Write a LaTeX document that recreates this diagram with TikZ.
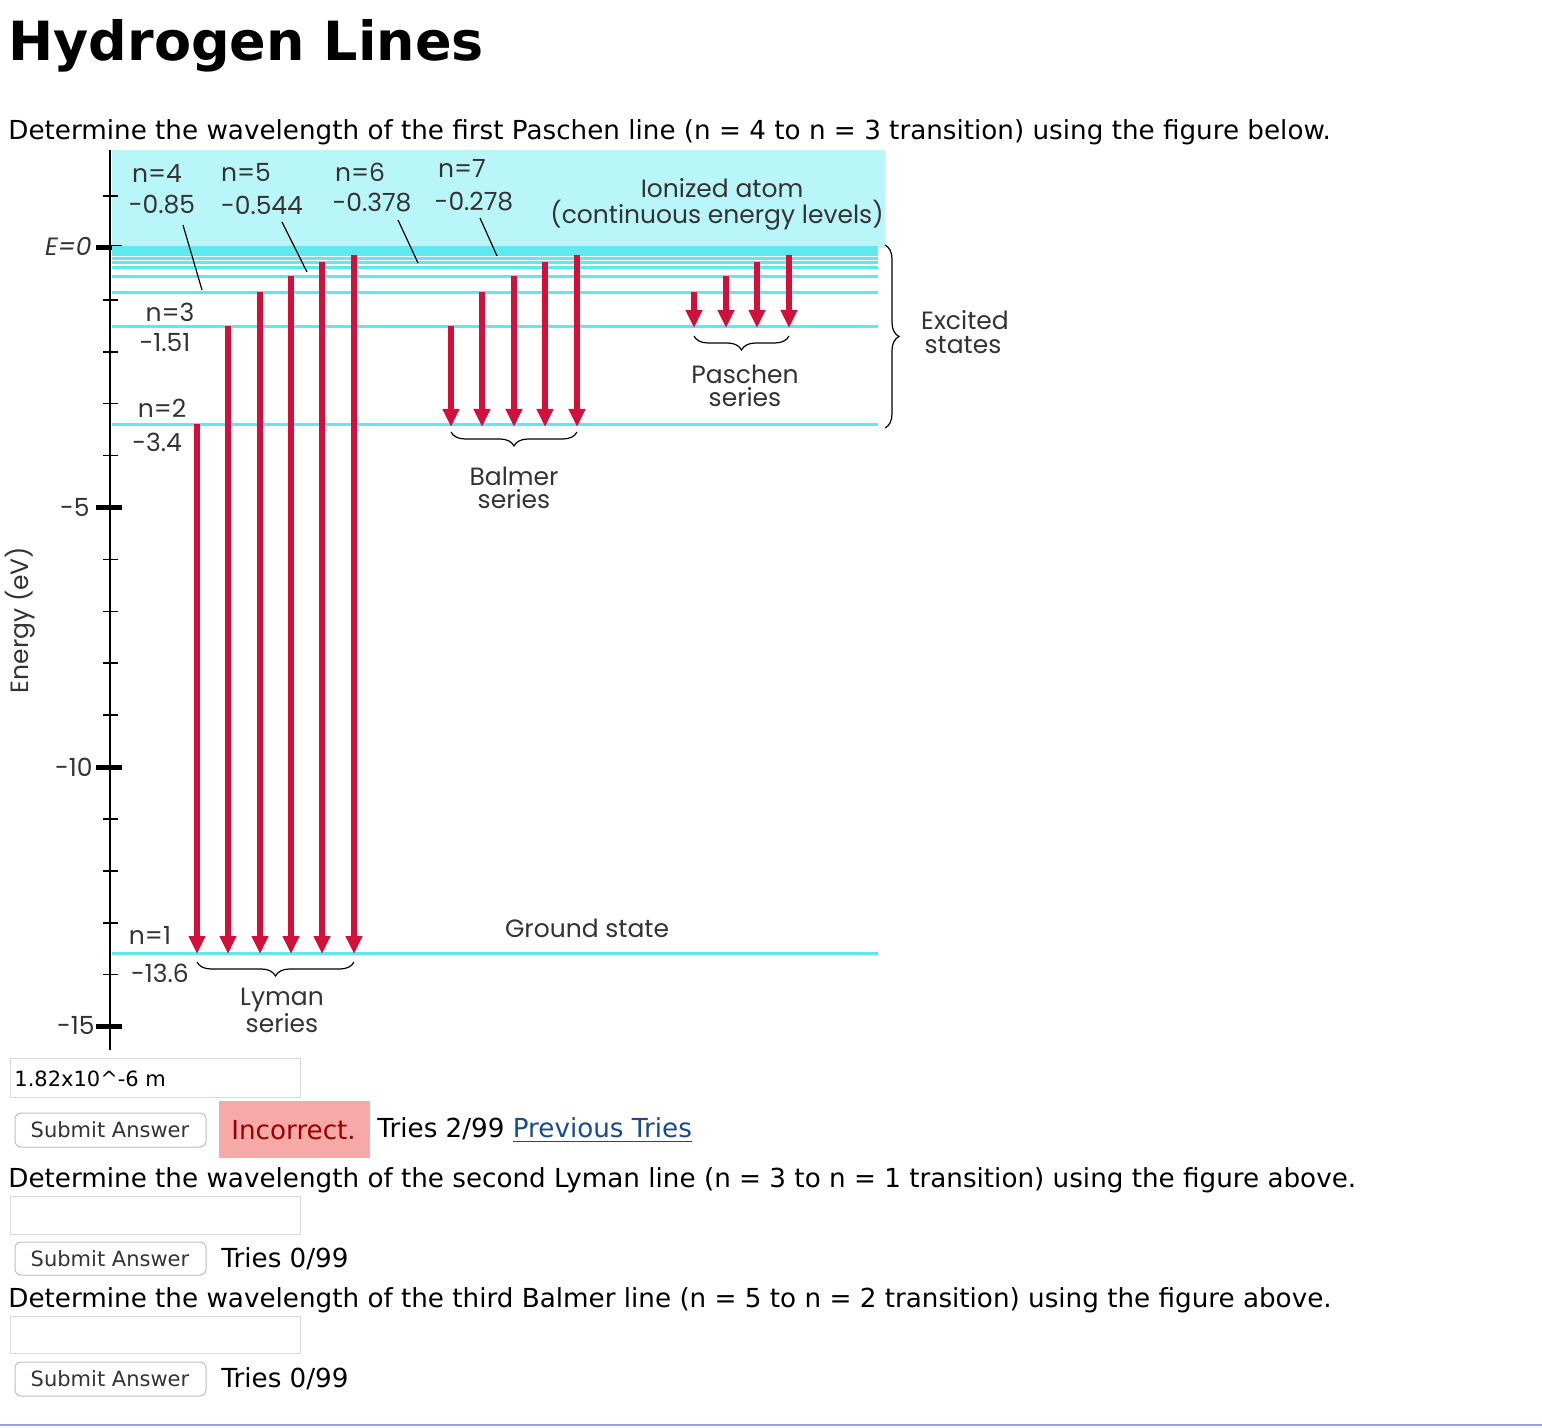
\documentclass[tikz,border=0pt]{standalone}
\usepackage{fontspec}
\setmainfont{DejaVu Sans}
\newfontfamily\dia{Poppins}
\usetikzlibrary{arrows.meta,decorations.pathreplacing}
\definecolor{cy}{HTML}{5FE8F0}
\definecolor{cybg}{HTML}{B8F6FA}
\definecolor{arr}{HTML}{D2103C}
\definecolor{pinkbg}{HTML}{F7A9A8}
\definecolor{linkb}{HTML}{1B4A8A}
\tikzset{
 lvl/.style={draw=cy,line width=1.6pt},
 em/.style={draw=arr,line width=2.6pt,-{Triangle[width=8pt,length=9pt]}},
 dl/.style={font=\dia\fontsize{12.5}{12}\selectfont,inner sep=0pt,text=black!80},
 pg/.style={font=\fontsize{13.1}{14}\selectfont,inner sep=0pt,anchor=west},
 box/.style={draw=black!15,line width=0.5pt},
 btn/.style={draw=black!25,rounded corners=3pt,fill=white,line width=0.5pt},
 brc/.style={decorate,decoration={brace,amplitude=7pt},line width=0.6pt},
 lead/.style={line width=0.6pt}
}
\begin{document}
\begin{tikzpicture}[x=0.5pt,y=-0.5pt]
\useasboundingbox (0,0) rectangle (1542,1428);
\node[anchor=west,inner sep=0pt,font=\bfseries\fontsize{27}{30}\selectfont] (title) at (8,46) {Hydrogen Lines};
\node[pg] (q1) at (8,132) {Determine the wavelength of the first Paschen line (n = 4 to n = 3 transition) using the figure below.};
\fill[cybg] (112,150) rectangle (885,248);
% axis
\draw[line width=0.8pt] (110,150) -- (110,1050);
\foreach \e in {1,0,-1,-2,-3,-4,-5,-6,-7,-8,-9,-10,-11,-12,-13,-14,-15}
  \draw[line width=0.8pt] (103,{248-51.9*\e}) -- (118,{248-51.9*\e});
\foreach \e in {0,-5,-10,-15}
  \draw[line width=2.5pt] (96,{248-51.9*\e}) -- (122,{248-51.9*\e});
\node[dl,anchor=east] (e0) at (92,246) {\itshape E=0};
\node[dl,anchor=east] (e5) at (90,507) {-5};
\node[dl,anchor=east] (e10) at (93,767) {-10};
\node[dl,anchor=east] (e15) at (95,1025) {-15};
\node[dl,rotate=90] (ylab) at (20,620) {Energy (eV)};
% levels
\foreach \e/\nm in {-13.6/l1,-3.4/l2,-1.51/l3,-0.85/l4,-0.544/l5,-0.378/l6,-0.278/l7,-0.2/l8,-0.13/l9,-0.07/l10,0/l11}
  \draw[lvl] (112,{248-51.9*\e}) coordinate (\nm a) -- (878,{248-51.9*\e}) coordinate (\nm b);
% Lyman
\foreach \x/\e in {197/-3.4,228/-1.51,260/-0.85,291/-0.544,322/-0.278,354/-0.13}
  \draw[em] (\x,{248-51.9*\e}) -- (\x,954);
% Balmer
\foreach \x/\e in {451/-1.51,482/-0.85,514/-0.544,545/-0.278,577/-0.13}
  \draw[em] (\x,{248-51.9*\e}) -- (\x,427);
% Paschen
\foreach \x/\e in {694/-0.85,726/-0.544,757/-0.278,789/-0.13}
  \draw[em] (\x,{248-51.9*\e}) -- (\x,328);
% braces
\draw[brc] (354,962) coordinate (lyb) -- (197,962) coordinate (lya);
\draw[brc] (577,432) -- (451,432);
\draw[brc] (789,336) -- (694,336);
\draw[brc] (885,245) -- (885,428);
% labels
\node[dl] (n4) at (157,174) {n=4};
\node[dl] (n5) at (246,172) {n=5};
\node[dl] (n6) at (360,172) {n=6};
\node[dl] (n7) at (462,168) {n=7};
\node[dl] (v4) at (162,205) {-0.85};
\node[dl] (v5) at (262,205) {-0.544};
\node[dl] (v6) at (372,203) {-0.378};
\node[dl] (v7) at (474,202) {-0.278};
\draw[lead] (183,225) -- (202,290);
\draw[lead] (282,222) -- (307,272);
\draw[lead] (398,220) -- (418,263);
\draw[lead] (480,218) -- (497,256);
\node[dl] (ion) at (722,188) {Ionized atom};
\node[dl] (cont) at (717,215) {(continuous energy levels)};
\node[dl] (n3) at (170,312) {n=3};
\node[dl] (v3) at (165,343) {-1.51};
\node[dl] (n2) at (162,408) {n=2};
\node[dl] (v2) at (157,442) {-3.4};
\node[dl] (n1) at (150,935) {n=1};
\node[dl] (v1) at (160,973) {-13.6};
\node[dl] (gs) at (587,928) {Ground state};
\node[dl] (ly1) at (282,1000) {Lyman};
\node[dl] (ly2) at (282,1023) {series};
\node[dl] (ba1) at (514,476) {Balmer};
\node[dl] (ba2) at (514,499) {series};
\node[dl] (pa1) at (745,374) {Paschen};
\node[dl] (pa2) at (745,397) {series};
\node[dl] (ex1) at (965,320) {Excited};
\node[dl] (ex2) at (963,345) {states};
% form
\draw[box] (10,1058) rectangle (300,1097);
\node[pg,font=\fontsize{10.5}{12}\selectfont] (ans) at (14,1079) {1.82x10\^{}-6 m};
\draw[btn] (15,1113) rectangle (206,1147);
\node[font=\fontsize{10.5}{12}\selectfont,inner sep=0pt,text=black!80] (b1) at (110,1130) {Submit Answer};
\fill[pinkbg] (219,1101) rectangle (370,1158);
\node[pg,text=red!60!black] (inc) at (231,1130) {Incorrect.};
\node[pg] (tr1) at (377,1130) {Tries 2/99 \textcolor{linkb}{\underline{Previous Tries}}};
\node[pg] (q2) at (8,1180) {Determine the wavelength of the second Lyman line (n = 3 to n = 1 transition) using the figure above.};
\draw[box] (10,1196) rectangle (300,1234);
\draw[btn] (15,1242) rectangle (206,1275);
\node[font=\fontsize{10.5}{12}\selectfont,inner sep=0pt,text=black!80] (b2) at (110,1259) {Submit Answer};
\node[pg] (tr2) at (221,1259) {Tries 0/99};
\node[pg] (q3) at (8,1300) {Determine the wavelength of the third Balmer line (n = 5 to n = 2 transition) using the figure above.};
\draw[box] (10,1316) rectangle (300,1353);
\draw[btn] (15,1362) rectangle (206,1396);
\node[font=\fontsize{10.5}{12}\selectfont,inner sep=0pt,text=black!80] (b3) at (110,1379) {Submit Answer};
\node[pg] (tr3) at (221,1379) {Tries 0/99};
\draw[blue!40,line width=1pt] (0,1425) -- (1542,1425);
\end{tikzpicture}
\end{document}
